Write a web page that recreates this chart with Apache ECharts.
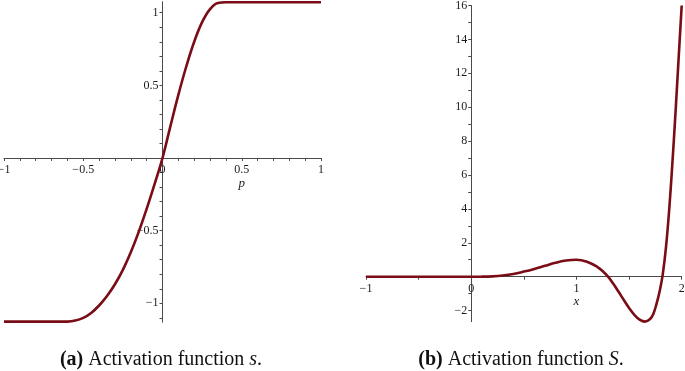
<!DOCTYPE html>
<html>
<head>
<meta charset="utf-8">
<script src="https://cdn.jsdelivr.net/npm/echarts@6/dist/echarts.min.js"></script>
<style>
  html, body { margin: 0; padding: 0; background: #fff; }
  #chart { width: 685px; height: 371px; }
</style>
</head>
<body>
<div id="chart"></div>
<script>
// (a) activation function s(p)
const pValues = [-1, -0.8, -0.7, -0.65, -0.6, -0.55, -0.5, -0.45, -0.4, -0.35, -0.3, -0.25, -0.2, -0.15, -0.1, -0.05, 0,
  0.05, 0.1, 0.15, 0.2, 0.25, 0.3, 0.35, 0.4, 0.5, 1];
const sValues = [-1.126, -1.126, -1.126, -1.126, -1.126, -1.119, -1.10, -1.066, -1.015, -0.95, -0.869, -0.77, -0.649, -0.508, -0.35, -0.179, 0,
  0.22, 0.435, 0.63, 0.80, 0.935, 1.025, 1.0675, 1.072, 1.072, 1.072];

// (b) activation function S(x)
const xValues = [-1, -0.5, 0, 0.1, 0.2, 0.3, 0.4, 0.5, 0.6, 0.7, 0.8, 0.9, 1.0, 1.1, 1.2, 1.25, 1.3, 1.35, 1.4, 1.45, 1.5,
  1.55, 1.6, 1.65, 1.7, 1.73, 1.76, 1.79, 1.82, 1.85, 1.88, 1.91, 1.94, 1.97, 2.0];
const SValues = [0, 0, 0, 0.003, 0.02, 0.07, 0.16, 0.30, 0.46, 0.64, 0.82, 0.95, 1.0, 0.88, 0.57, 0.32, 0.0, -0.42, -0.89, -1.38, -1.85,
  -2.25, -2.53, -2.65, -2.50, -2.20, -1.62, -0.88, 0.14, 1.70, 3.86, 6.56, 9.56, 12.8, 16.0];

// tick labels and tick marks
const pLabels = [-1, -0.5, 0, 0.5, 1];
const pTicks = [-1, -0.9, -0.8, -0.7, -0.6, -0.5, -0.4, -0.3, -0.2, -0.1, 0, 0.1, 0.2, 0.3, 0.4, 0.5, 0.6, 0.7, 0.8, 0.9, 1];
const sLabels = [-1, -0.5, 0.5, 1];
const sTicks = [-1.1, -1, -0.9, -0.8, -0.7, -0.6, -0.5, -0.4, -0.3, -0.2, -0.1, 0.1, 0.2, 0.3, 0.4, 0.5, 0.6, 0.7, 0.8, 0.9, 1];
const xLabels = [-1, 0, 1, 2];
const xTicks = [-1, -0.5, 0, 0.5, 1, 1.5, 2];
const SLabels = [-2, 2, 4, 6, 8, 10, 12, 14, 16];
const STicks = [-2, -1, 1, 2, 3, 4, 5, 6, 7, 8, 9, 10, 11, 12, 13, 14, 15, 16];

const captions = ['Activation function ', 'Activation function '];

const serif = '"Liberation Serif", "DejaVu Serif", serif';
const axisColor = '#4a4a4a';
const curveColor = '#7a0c16';

const fmt = v => String(v).replace('-', '\u2212');

function makeAxis(idx, min, max, labels, ticks, isX) {
  return {
    type: 'value',
    gridIndex: idx,
    position: isX ? 'bottom' : 'left',
    offset: 0,
    min: min,
    max: max,
    splitLine: { show: false },
    axisLine: { show: true, onZero: false, lineStyle: { color: axisColor, width: 1 } },
    axisTick: { show: true, length: 3, customValues: ticks, lineStyle: { color: axisColor } },
    axisLabel: {
      customValues: labels,
      formatter: fmt,
      color: '#1a1a1a',
      fontFamily: serif,
      fontSize: 12,
      margin: isX ? 6 : 4,
      showMinLabel: true,
      showMaxLabel: true,
      hideOverlap: false
    }
  };
}

const myChart = echarts.init(document.getElementById('chart'), null, { renderer: 'canvas' });

const grids = [
  { left: 4, top: 1.7, width: 317, height: 320.5, containLabel: false, outerBoundsMode: 'none' },
  { left: 366, top: 5.5, width: 315.7, height: 316.1, containLabel: false, outerBoundsMode: 'none' }
];

const option = {
  backgroundColor: '#fff',
  animation: false,
  grid: grids,
  xAxis: [
    makeAxis(0, -1, 1, pLabels, pTicks, true),
    makeAxis(1, -1, 2, xLabels, xTicks, true)
  ],
  yAxis: [
    makeAxis(0, -1.13, 1.076, sLabels, sTicks, false),
    makeAxis(1, -2.65, 16, SLabels, STicks, false)
  ],
  series: [
    {
      name: 's',
      type: 'line',
      xAxisIndex: 0,
      yAxisIndex: 0,
      data: pValues.map((p, i) => [p, sValues[i]]),
      showSymbol: false,
      smooth: 0.4,
      clip: false,
      lineStyle: { color: curveColor, width: 2.6 }
    },
    {
      name: 'S',
      type: 'line',
      xAxisIndex: 1,
      yAxisIndex: 1,
      data: xValues.map((x, i) => [x, SValues[i]]),
      showSymbol: false,
      smooth: 0.4,
      clip: false,
      lineStyle: { color: curveColor, width: 2.6 }
    }
  ]
};

myChart.setOption(option);

// move each axis onto the other axis's zero, like crossing axes
const zeroA = myChart.convertToPixel({ gridIndex: 0 }, [0, 0]);
const zeroB = myChart.convertToPixel({ gridIndex: 1 }, [0, 0]);
const bottomA = grids[0].top + grids[0].height;
const bottomB = grids[1].top + grids[1].height;

// axis names and captions placed from the axes themselves
const pName = myChart.convertToPixel({ gridIndex: 0 }, [0.5, 0]);
const xName = myChart.convertToPixel({ gridIndex: 1 }, [1, 0]);
const capStyle = {
  b: { fontFamily: serif, fontSize: 20, fontWeight: 'bold', fill: '#111' },
  r: { fontFamily: serif, fontSize: 20, fill: '#111' },
  i: { fontFamily: serif, fontSize: 20, fontStyle: 'italic', fill: '#111' }
};

myChart.setOption({
  xAxis: [
    { offset: -(bottomA - zeroA[1]) },
    { offset: -(bottomB - zeroB[1]) }
  ],
  yAxis: [
    { offset: -(zeroA[0] - grids[0].left) },
    { offset: -(zeroB[0] - grids[1].left) }
  ],
  graphic: [
    {
      type: 'text', x: pName[0], y: pName[1] + 26,
      style: { text: 'p', font: 'italic 13px ' + serif, fill: '#222', align: 'center', verticalAlign: 'middle' }
    },
    {
      type: 'text', x: xName[0], y: xName[1] + 25,
      style: { text: 'x', font: 'italic 13px ' + serif, fill: '#222', align: 'center', verticalAlign: 'middle' }
    },
    {
      type: 'text', x: 161, y: 360,
      style: {
        text: '{b|(a)}{r| ' + captions[0] + '}{i|s}{r|.}',
        rich: capStyle, align: 'center', verticalAlign: 'middle'
      }
    },
    {
      type: 'text', x: 521, y: 360,
      style: {
        text: '{b|(b)}{r| ' + captions[1] + '}{i|S}{r|.}',
        rich: capStyle, align: 'center', verticalAlign: 'middle'
      }
    }
  ]
});

window.addEventListener('resize', function () {
  myChart.resize();
});
</script>
</body>
</html>
